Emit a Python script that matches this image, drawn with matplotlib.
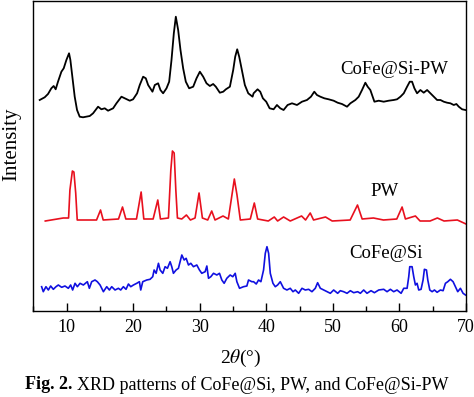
import matplotlib
matplotlib.use("Agg")
import matplotlib.pyplot as plt
from matplotlib.ticker import MultipleLocator

# ---- data (2theta in degrees, intensity in arbitrary units) ----
pw_cofe_x = [5.96, 6.71, 7.21, 7.71, 8.06, 8.36, 8.71, 9.22, 9.57, 9.97, 10.37, 10.57, 10.87, 11.22,
             11.57, 11.97, 12.47, 12.98, 13.48, 13.98, 14.73, 15.23, 15.73, 16.23, 16.99, 17.49,
             18.24, 18.74, 19.49, 19.99, 20.59, 20.99, 21.50, 21.90, 22.25, 22.90, 23.25, 23.75,
             24.10, 24.50, 25.01, 25.41, 25.76, 26.11, 26.41, 26.76, 27.11, 27.51, 27.91, 28.41,
             29.02, 29.52, 30.02, 30.52, 31.02, 31.52, 32.02, 32.42, 33.02, 33.53, 33.93, 34.53,
             35.03, 35.33, 35.63, 35.93, 36.43, 36.78, 37.29, 37.94, 38.09, 38.69, 39.09, 39.49,
             39.99, 40.50, 41.10, 41.60, 42.10, 42.60, 43.20, 43.86, 44.61, 45.36, 46.11, 46.71,
             47.21, 47.61, 48.12, 48.72, 49.37, 50.12, 50.72, 51.37, 52.13, 52.63, 53.38, 53.88,
             54.38, 54.88, 55.23, 55.63, 56.24, 56.89, 57.64, 58.39, 59.14, 59.64, 60.15, 60.65,
             61.15, 61.55, 61.90, 62.25, 62.65, 63.15, 63.65, 64.16, 64.66, 65.16, 65.66, 66.16,
             66.66, 67.16, 67.66, 68.16, 68.56, 68.92, 69.42, 69.92]
pw_cofe_y = [211, 213.7, 217, 222.7, 225, 221.7, 229.3, 239.3, 242.7, 251, 257.7, 251, 234.3, 214.3,
             201, 194.3, 193.7, 194.3, 195, 197.7, 204.3, 201.7, 202.7, 200.3, 202.7, 207.7,
             214.3, 212.7, 210.3, 211.7, 217.7, 226, 234.3, 232.7, 226, 219.3, 226, 227.7,
             221, 217.7, 222.7, 229.3, 251, 277.7, 294.3, 281, 261, 242.7, 229.3, 222.7,
             224.3, 232.7, 239.3, 234.3, 227.7, 225, 227, 224.3, 218.3, 219.3, 221.7, 224.3,
             241, 254.3, 261.7, 254.3, 237.7, 226, 217.7, 214.3, 217.7, 221.7, 219.3, 212.7,
             209.3, 202.7, 201.7, 206, 202.7, 201, 206, 207.7, 206, 209.3, 211, 214.3,
             219.3, 216, 214.3, 212.7, 211.7, 210.3, 208.3, 207, 204.3, 207.7, 211, 214.3,
             221, 228.3, 224.3, 221, 209.3, 210.3, 209.3, 210.3, 211, 211.7, 214.3, 217.7,
             224.3, 229.3, 229.3, 222.7, 217.7, 221, 218.3, 221, 217.7, 214.3, 211, 211,
             209.3, 208.3, 207.7, 206, 207, 204.3, 201.7, 201]

pw_x = [6.8, 9.5, 10.3, 10.5, 10.87, 11.1, 11.37, 11.6, 14.5, 15.1, 15.5, 17.8, 18.4, 18.9, 20.5,
        21.2, 21.6, 23.0, 23.7, 24.1, 25.3, 25.66, 25.9, 26.16, 26.41, 26.65, 27.3, 28.0, 28.6,
        29.3, 29.9, 30.4, 31.2, 31.8, 32.3, 33.5, 34.3, 35.2, 35.6, 36.1, 37.6, 38.2, 38.7,
        40.3, 41.2, 41.7, 42.6, 43.6, 45.3, 45.9, 46.6, 47.1, 48.9, 49.9, 52.6, 53.7, 54.4,
        56.1, 57.6, 59.6, 60.4, 60.9, 62.4, 63.1, 64.6, 65.7, 66.7, 68.7, 70.0]
pw_y = [90, 93, 93, 121, 140, 139, 118, 91, 91, 101, 91, 92, 104, 92, 92,
        119, 92, 92, 111, 92, 93, 141, 160, 158, 121, 93, 92, 96, 91,
        93, 118, 93, 91, 100, 91, 95, 92, 132, 116, 91, 92, 108, 92,
        90, 94, 90, 94, 90, 95, 91, 98, 91, 94, 90, 91, 106, 92,
        93, 91, 92, 104, 92, 95, 90, 90, 93, 90, 91, 87]

cofe_x = [6.25, 6.50, 6.90, 7.26, 7.61, 8.01, 8.41, 8.76, 9.26, 9.76, 10.26, 10.61, 10.91, 11.27,
          11.62, 12.02, 12.52, 13.12, 13.42, 13.77, 14.27, 14.62, 15.03, 15.53, 16.03, 16.43,
          16.78, 17.28, 17.78, 18.13, 18.53, 18.93, 19.29, 19.64, 20.04, 20.54, 20.94, 21.14,
          21.44, 22.04, 22.54, 22.94, 23.15, 23.45, 23.80, 24.05, 24.45, 24.80, 25.15, 25.55,
          25.80, 26.05, 26.45, 26.80, 27.31, 27.66, 27.96, 28.31, 28.66, 29.06, 29.56, 29.96,
          30.31, 30.81, 31.07, 31.32, 31.67, 32.07, 32.57, 32.97, 33.32, 33.67, 34.07, 34.57,
          34.97, 35.33, 35.58, 35.98, 36.58, 37.08, 37.33, 37.83, 38.09, 38.49, 38.84, 39.19,
          39.59, 39.85, 40.10, 40.35, 40.60, 41.00, 41.35, 41.70, 42.10, 42.35, 42.60, 43.10,
          43.60, 44.01, 44.36, 44.86, 45.36, 45.86, 46.36, 46.86, 47.36, 47.71, 48.12, 48.62,
          49.12, 49.62, 50.12, 50.72, 51.12, 51.62, 52.13, 52.63, 53.13, 53.73, 54.13, 54.63,
          55.13, 55.73, 56.24, 56.89, 57.64, 58.14, 58.64, 59.14, 59.64, 60.25, 60.65, 61.15,
          61.40, 61.55, 61.90, 62.15, 62.40, 62.65, 62.90, 63.25, 63.55, 63.75, 64.06, 64.26,
          64.56, 64.91, 65.26, 65.66, 66.16, 66.56, 66.91, 67.26, 67.66, 68.06, 68.41, 68.76,
          69.16, 69.56, 69.92]
cofe_y = [24.3, 19.3, 24.3, 21, 25, 21.7, 24.3, 26, 23.7, 25, 22.7, 26, 21, 27.7,
          24.3, 27.7, 26, 29.3, 22.7, 29.3, 31, 29.3, 26, 19.3, 24.3, 21,
          24.3, 21, 22.7, 21, 24.3, 21.7, 27, 24.3, 26, 27.7, 29.3, 21,
          29.3, 31, 31.7, 34.3, 41, 37.7, 47.7, 41, 37.7, 44.3, 42.7, 49.3,
          44.3, 37.7, 41, 42.7, 56, 51, 52.7, 46, 47.7, 44.3, 46, 41,
          37.7, 39.3, 45, 32.7, 34.3, 37.7, 36, 37.7, 31, 27.7, 32.7, 36,
          34.3, 37.7, 29.3, 22.7, 24.3, 25, 31, 29.3, 29.3, 27, 31, 29.3,
          41, 57.7, 64.3, 57.7, 37.7, 27.7, 24.3, 26, 29.3, 26, 22.7, 21,
          22.7, 19.3, 21, 17.7, 22.7, 21, 21.7, 19.3, 22.7, 28.3, 22.7, 21,
          19.3, 17.7, 21, 17.7, 20.3, 19.3, 17.7, 20.3, 18.3, 19.3, 17.7, 21,
          17.7, 20.3, 18.3, 21, 21.7, 19.3, 21.7, 19.3, 21, 17.7, 22.7, 22.7,
          34.3, 44.3, 44.3, 34.3, 26, 27.7, 21, 21.7, 31, 41.7, 41, 31,
          21, 19.3, 21, 18.7, 21, 20.3, 27.7, 29.3, 31.7, 29.3, 24.3, 19.3,
          22.7, 17.7, 16]

labels = ["CoFe@Si-PW", "PW", "CoFe@Si"]
xticks = [10, 20, 30, 40, 50, 60, 70]

# ---- figure ----
plt.rcParams['font.family'] = ['Liberation Serif', 'DejaVu Serif']
plt.rcParams['mathtext.fontset'] = 'stix'

W, H = 474, 397
fig = plt.figure(figsize=(W / 100, H / 100), dpi=100)
ax = fig.add_axes([33.3 / W, (H - 311) / H, (466 - 33.3) / W, 310 / H])

ax.plot(pw_cofe_x, pw_cofe_y, color='black', lw=1.3)
ax.plot(pw_x, pw_y, color='#e8101e', lw=1.2)
ax.plot(cofe_x, cofe_y, color='#1010e0', lw=1.2)

ax.set_xlim(5, 70)
ax.set_ylim(0, 310)
ax.set_xticks(xticks)
ax.xaxis.set_minor_locator(MultipleLocator(5))
ax.tick_params(axis='x', which='major', direction='in', length=6, width=1,
               labelsize=13, pad=6, top=False)
ax.tick_params(axis='x', which='minor', direction='in', length=3.5, width=1, top=False)
ax.set_yticks([])
for s in ax.spines.values():
    s.set_linewidth(1.0)
    s.set_color('black')

ax.text(59.2, 242, labels[0], fontsize=13.5, ha='center', va='center')
ax.text(57.8, 119, labels[1], fontsize=13.5, ha='center', va='center')
ax.text(58.0, 58, labels[2], fontsize=13.5, ha='center', va='center')

fig.text(12 / W, 1 - 144 / H, "Intensity", rotation=90, fontsize=15,
         ha='center', va='center')
fig.text(241 / W, 1 - 358 / H, r"2$\theta$(°)", fontsize=14, ha='center', va='center')

cap_top = 1 - 376 / H
fig.text(25 / W, cap_top, "Fig. 2.", fontsize=13, fontweight='bold',
         ha='left', va='top')
fig.text(77 / W, cap_top, "XRD patterns of CoFe@Si, PW, and CoFe@Si-PW",
         fontsize=13, ha='left', va='top')

fig.savefig("out.png", dpi=100)
